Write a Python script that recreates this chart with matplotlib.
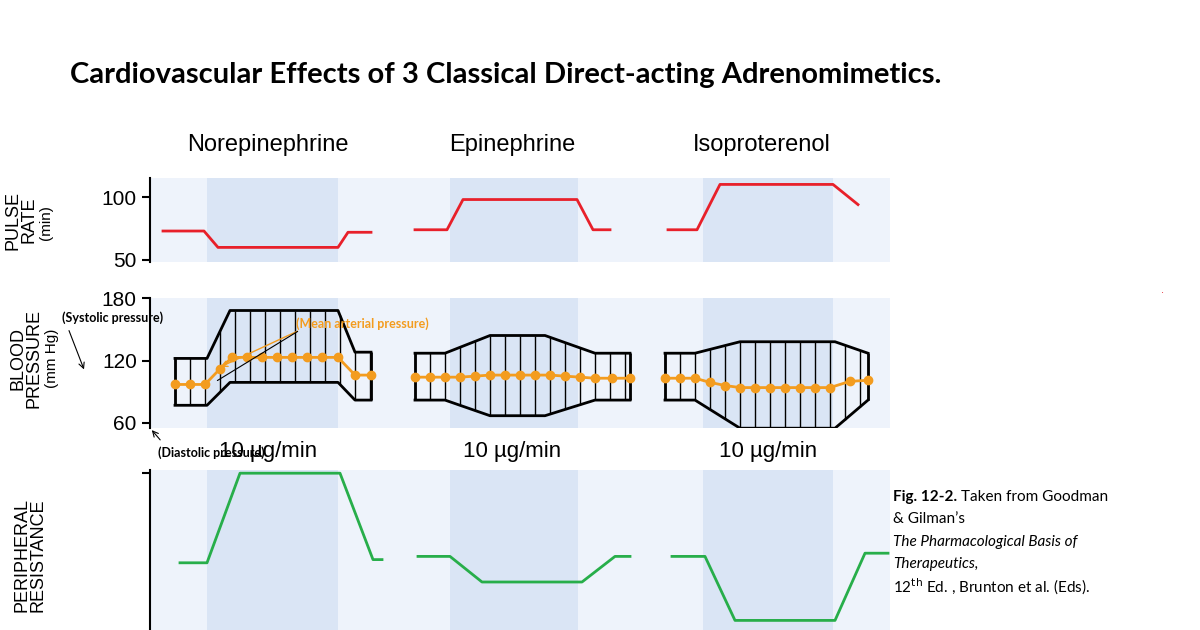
import numpy as np
import matplotlib.pyplot as plt

plt.rcParams["font.family"] = ["Liberation Sans", "DejaVu Sans"]

W, H = 1200, 630

drugs = ["Norepinephrine", "Epinephrine", "Isoproterenol"]
dose_label = "10 \u00b5g/min"

# infusion windows (time axis in figure columns)
infusion = [(207, 338), (450, 578), (703, 833)]

# pulse rate (beats/min)
pulse_t = [[163, 204, 218, 338, 348, 371], [415, 447, 463, 577, 593, 610], [668, 697, 720, 833, 858]]
pulse_v = [[73, 73, 60, 60, 72, 72], [74, 74, 98, 98, 74, 74], [74, 74, 110, 110, 94]]

# blood pressure (mm Hg)
bp_t = [[175, 207, 230, 338, 355, 371], [415, 445, 490, 545, 595, 630], [665, 695, 740, 835, 868, 868]]
systolic = [[122, 122, 168, 168, 128, 128], [127, 127, 144, 144, 127, 127], [127, 127, 138, 138, 127, 127]]
diastolic = [[77, 77, 99, 99, 82, 82], [82, 82, 67, 67, 82, 82], [82, 82, 55, 55, 82, 82]]
mean_t = [[175, 190, 205, 220, 232, 247, 262, 277, 292, 307, 322, 338, 355, 371],
          [415, 430, 445, 460, 475, 490, 505, 520, 535, 550, 565, 580, 595, 612, 630],
          [665, 680, 695, 710, 725, 740, 755, 770, 785, 800, 815, 830, 850, 868]]
mean_v = [[97, 97, 97, 112, 123, 123, 123, 123, 123, 123, 123, 123, 106, 106],
          [104, 104, 104, 104, 105, 106, 106, 106, 106, 106, 105, 104, 103, 103, 103],
          [103, 103, 103, 99, 96, 94, 94, 94, 94, 94, 94, 94, 100, 101]]

# peripheral resistance (arbitrary units)
res_t = [[180, 207, 240, 340, 373, 382], [418, 450, 482, 582, 615, 630], [672, 705, 735, 835, 865, 888]]
res_v = [[42, 42, 98, 98, 44, 44], [46, 46, 30, 30, 46, 46], [46, 46, 6, 6, 48, 48]]

RED, GREEN, ORANGE = "#e8202a", "#27ae4a", "#f39c1f"
LIGHT, DARK = "#eef3fb", "#dae5f5"

fig = plt.figure(figsize=(12, 6.3), dpi=100)


def add_axes(x0, x1, ytop, ybot):
    return fig.add_axes([x0 / W, (H - ybot) / H, (x1 - x0) / W, (ybot - ytop) / H])


def style(ax, ylim):
    ax.set_xlim(150, 890)
    ax.set_ylim(*ylim)
    ax.set_facecolor(LIGHT)
    for s in ["top", "right", "bottom"]:
        ax.spines[s].set_visible(False)
    ax.spines["left"].set_linewidth(1.5)
    ax.set_xticks([])
    ax.tick_params(axis="y", labelsize=15, width=1.5, length=6)
    for a, b in infusion:
        ax.axvspan(a, b, color=DARK, zorder=0, lw=0)


# pulse
ax1 = add_axes(150, 890, 178, 262)
style(ax1, (48.4, 115.1))
ax1.set_yticks([50, 100])
for t, v in zip(pulse_t, pulse_v):
    ax1.plot(t, v, color=RED, lw=2)

# blood pressure
ax2 = add_axes(150, 890, 298, 428)
style(ax2, (55.2, 180))
ax2.set_yticks([60, 120, 180])
for t, s, d, mt, mv in zip(bp_t, systolic, diastolic, mean_t, mean_v):
    ax2.plot(t, s, color="black", lw=2)
    ax2.plot(t, d, color="black", lw=2)
    xs = np.arange(t[0], t[-1] + 1, 15)
    if xs[-1] != t[-1]:
        xs = np.append(xs, t[-1])
    ax2.vlines(xs, np.interp(xs, t, d), np.interp(xs, t, s), color="black", lw=1)
    ax2.vlines([t[0], t[-1]], [d[0], d[-1]], [s[0], s[-1]], color="black", lw=2)
    ax2.plot(mt, mv, color=ORANGE, lw=2, marker="o", ms=6)

# resistance
ax3 = add_axes(150, 890, 470, 630)
style(ax3, (0, 100))
ax3.set_yticks([98])
ax3.set_yticklabels([])
for t, v in zip(res_t, res_v):
    ax3.plot(t, v, color=GREEN, lw=2)

# texts
fig.text(70 / W, 1 - 75 / H, "Cardiovascular Effects of 3 Classical Direct-acting Adrenomimetics.",
         fontsize=21, fontweight="bold", va="center", family="Lato")
for name, xc in zip(drugs, [268, 512, 762]):
    fig.text(xc / W, 1 - 145 / H, name, fontsize=17, ha="center", va="center")
for xc in [268, 512, 768]:
    fig.text(xc / W, 1 - 452 / H, dose_label, fontsize=16, ha="center", va="center")

fig.text(21 / W, 1 - 220 / H, "PULSE\nRATE", fontsize=13, rotation=90, ha="center", va="center", linespacing=0.95)
fig.text(46 / W, 1 - 223 / H, "(min)", fontsize=11, rotation=90, ha="center", va="center")
fig.text(26 / W, 1 - 358 / H, "BLOOD\nPRESSURE", fontsize=13, rotation=90, ha="center", va="center", linespacing=0.95)
fig.text(52 / W, 1 - 358 / H, "(mm Hg)", fontsize=11, rotation=90, ha="center", va="center")
fig.text(30 / W, 1 - 555 / H, "PERIPHERAL\nRESISTANCE", fontsize=13, rotation=90, ha="center", va="center", linespacing=0.95)

# annotations
fig.text(62 / W, 1 - 318 / H, "(Systolic pressure)", fontsize=9, fontweight="bold", va="center", family="Lato")
fig.text(158 / W, 1 - 453 / H, "(Diastolic pressure)", fontsize=9, fontweight="bold", va="center", family="Lato")
fig.text(296 / W, 1 - 324 / H, "(Mean arterial pressure)", fontsize=9, fontweight="bold", color=ORANGE,
         va="center", family="Lato")
arrow = dict(arrowstyle="->", color="black", lw=0.8)
plt.annotate("", xy=(85 / W, 1 - 372 / H), xytext=(68 / W, 1 - 328 / H),
             xycoords="figure fraction", arrowprops=arrow)
plt.annotate("", xy=(150 / W, 1 - 428 / H), xytext=(162 / W, 1 - 442 / H),
             xycoords="figure fraction", arrowprops=arrow)
plt.annotate("", xy=(218 / W, 1 - 368 / H), xytext=(300 / W, 1 - 330 / H),
             xycoords="figure fraction", arrowprops=dict(arrowstyle="->", color=ORANGE, lw=1))
plt.annotate("", xy=(215 / W, 1 - 382 / H), xytext=(300 / W, 1 - 330 / H),
             xycoords="figure fraction", arrowprops=dict(arrowstyle="-", color="black", lw=0.8))

# caption
cx = 893 / W
fs = 11
fig.text(cx, 1 - 497 / H, "Fig. 12-2.", fontsize=fs, fontweight="bold", va="center", family="Lato")
fig.text(cx + 68 / W, 1 - 497 / H, "Taken from Goodman", fontsize=fs, va="center", family="Lato")
fig.text(cx, 1 - 519 / H, "& Gilman\u2019s", fontsize=fs, va="center", family="Lato")
fig.text(cx, 1 - 542 / H, "The Pharmacological Basis of", fontsize=fs, style="italic", va="center", family="Lato")
fig.text(cx, 1 - 564 / H, "Therapeutics,", fontsize=fs, style="italic", va="center", family="Lato")
fig.text(cx, 1 - 587 / H, "12$^{\\mathrm{th}}$ Ed. , Brunton et al. (Eds).", fontsize=fs, va="center", family="Lato")
fig.text(1163 / W, 1 - 293 / H, ".", color=RED, fontsize=8, ha="center")

fig.savefig("out.png", dpi=100)
